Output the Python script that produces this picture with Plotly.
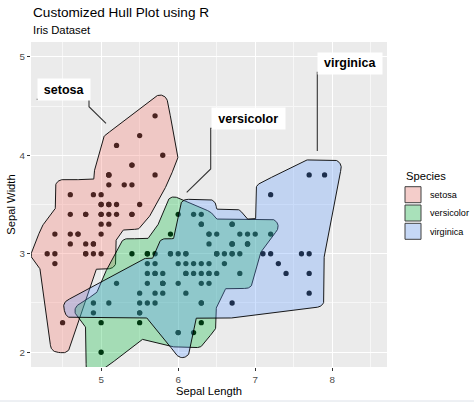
import numpy as np
import plotly.graph_objects as go

# ---------------- data (iris: Sepal.Length / Sepal.Width) ----------------
SPECIES = ["setosa", "versicolor", "virginica"]
SPECIES_COUNTS = [50, 50, 50]
SEPAL_LENGTH = [
    5.1, 4.9, 4.7, 4.6, 5.0, 5.4, 4.6, 5.0, 4.4, 4.9, 5.4, 4.8, 4.8, 4.3, 5.8, 5.7, 5.4, 5.1, 5.7, 5.1,
    5.4, 5.1, 4.6, 5.1, 4.8, 5.0, 5.0, 5.2, 5.2, 4.7, 4.8, 5.4, 5.2, 5.5, 4.9, 5.0, 5.5, 4.9, 4.4, 5.1,
    5.0, 4.5, 4.4, 5.0, 5.1, 4.8, 5.1, 4.6, 5.3, 5.0,
    7.0, 6.4, 6.9, 5.5, 6.5, 5.7, 6.3, 4.9, 6.6, 5.2, 5.0, 5.9, 6.0, 6.1, 5.6, 6.7, 5.6, 5.8, 6.2, 5.6,
    5.9, 6.1, 6.3, 6.1, 6.4, 6.6, 6.8, 6.7, 6.0, 5.7, 5.5, 5.5, 5.8, 6.0, 5.4, 6.0, 6.7, 6.3, 5.6, 5.5,
    5.5, 6.1, 5.8, 5.0, 5.6, 5.7, 5.7, 6.2, 5.1, 5.7,
    6.3, 5.8, 7.1, 6.3, 6.5, 7.6, 4.9, 7.3, 6.7, 7.2, 6.5, 6.4, 6.8, 5.7, 5.8, 6.4, 6.5, 7.7, 7.7, 6.0,
    6.9, 5.6, 7.7, 6.3, 6.7, 7.2, 6.2, 6.1, 6.4, 7.2, 7.4, 7.9, 6.4, 6.3, 6.1, 7.7, 6.3, 6.4, 6.0, 6.9,
    6.7, 6.9, 5.8, 6.8, 6.7, 6.7, 6.3, 6.5, 6.2, 5.9,
]
SEPAL_WIDTH = [
    3.5, 3.0, 3.2, 3.1, 3.6, 3.9, 3.4, 3.4, 2.9, 3.1, 3.7, 3.4, 3.0, 3.0, 4.0, 4.4, 3.9, 3.5, 3.8, 3.8,
    3.4, 3.7, 3.6, 3.3, 3.4, 3.0, 3.4, 3.5, 3.4, 3.2, 3.1, 3.4, 4.1, 4.2, 3.1, 3.2, 3.5, 3.6, 3.0, 3.4,
    3.5, 2.3, 3.2, 3.5, 3.8, 3.0, 3.8, 3.2, 3.7, 3.3,
    3.2, 3.2, 3.1, 2.3, 2.8, 2.8, 3.3, 2.4, 2.9, 2.7, 2.0, 3.0, 2.2, 2.9, 2.9, 3.1, 3.0, 2.7, 2.2, 2.5,
    3.2, 2.8, 2.5, 2.8, 2.9, 3.0, 2.8, 3.0, 2.9, 2.6, 2.4, 2.4, 2.7, 2.7, 3.0, 3.4, 3.1, 2.3, 3.0, 2.5,
    2.6, 3.0, 2.6, 2.3, 2.7, 3.0, 2.9, 2.9, 2.5, 2.8,
    3.3, 2.7, 3.0, 2.9, 3.0, 3.0, 2.5, 2.9, 2.5, 3.6, 3.2, 2.7, 3.0, 2.5, 2.8, 3.2, 3.0, 3.8, 2.6, 2.2,
    3.2, 2.8, 2.8, 2.7, 3.3, 3.2, 2.8, 3.0, 2.8, 3.0, 2.8, 3.8, 2.8, 2.8, 2.6, 3.0, 3.4, 3.1, 3.0, 3.1,
    3.1, 3.1, 2.7, 3.2, 3.3, 3.0, 2.5, 3.0, 3.4, 3.0,
]
FILL_HEX = ["#F8766D", "#00BA38", "#619CFF"]
FILL_ALPHA = 0.3
X_TICKS = [5, 6, 7, 8]
Y_TICKS = [2, 3, 4, 5]
X_RANGE = [4.09, 8.71]
Y_RANGE = [1.85, 5.15]

TITLE = "Customized Hull Plot using R"
SUBTITLE = "Iris Dataset"
X_TITLE = "Sepal Length"
Y_TITLE = "Sepal Width"
LEGEND_TITLE = "Species"

# ---------------- layout geometry (pixels) ----------------
FIG_W, FIG_H = 474, 404
M_L, M_R, M_T, M_B = 31, 87, 42, 37
PW, PH = FIG_W - M_L - M_R, FIG_H - M_T - M_B
SX = PW / (X_RANGE[1] - X_RANGE[0])
SY = PH / (Y_RANGE[1] - Y_RANGE[0])
EXPAND, RADIUS, MITER_LIM, CONCAVITY, STEP = 15.0, 7.5, 3.0, 2.0, 0.6
FONT = "Liberation Sans, Arial, sans-serif"

species_col = []
for s, c in zip(SPECIES, SPECIES_COUNTS):
    species_col += [s] * c
species_col = np.array(species_col)
sl = np.array(SEPAL_LENGTH)
sw = np.array(SEPAL_WIDTH)


def px_x(px):
    return (px - M_L) / PW


def px_y(py):
    return (FIG_H - M_B - py) / PH


def rgba(h, a):
    h = h.lstrip("#")
    return "rgba(%d,%d,%d,%s)" % (int(h[0:2], 16), int(h[2:4], 16), int(h[4:6], 16), a)


def blend(h, a, bg=(242, 242, 242)):
    h = h.lstrip("#")
    c = [int(h[i:i + 2], 16) for i in (0, 2, 4)]
    return "rgb(%d,%d,%d)" % tuple(round(a * c[i] + (1 - a) * bg[i]) for i in range(3))


# ---------------- hull geometry (concaveman + offset) ----------------
def seg_d2(P, a, b):
    ab = b - a
    L2 = ab @ ab
    if L2 == 0:
        return ((P - a) ** 2).sum(1)
    t = np.clip(((P - a) @ ab) / L2, 0, 1)
    pr = a + t[:, None] * ab
    return ((P - pr) ** 2).sum(1)


def orient(a, b, c):
    return (b[0] - a[0]) * (c[1] - a[1]) - (b[1] - a[1]) * (c[0] - a[0])


def seg_cross(p1, q1, p2, q2):
    return ((orient(p1, q1, p2) > 0) != (orient(p1, q1, q2) > 0)) and \
           ((orient(p2, q2, p1) > 0) != (orient(p2, q2, q1) > 0))


def convex_hull(P):
    idx = sorted(range(len(P)), key=lambda i: (P[i][0], P[i][1]))
    lower, upper = [], []
    for i in idx:
        while len(lower) >= 2 and orient(P[lower[-2]], P[lower[-1]], P[i]) <= 0:
            lower.pop()
        lower.append(i)
    for i in reversed(idx):
        while len(upper) >= 2 and orient(P[upper[-2]], P[upper[-1]], P[i]) <= 0:
            upper.pop()
        upper.append(i)
    return lower[:-1] + upper[:-1]


def concave_hull(P, concavity):
    hull = convex_hull(P)
    nxt, prv = {}, {}
    for k in range(len(hull)):
        a, b = hull[k], hull[(k + 1) % len(hull)]
        nxt[a] = b
        prv[b] = a
    free = np.ones(len(P), bool)
    free[hull] = False
    start = hull[0]

    def no_inter(a, p):
        s = start
        while True:
            t = nxt[s]
            if s not in (a, p) and t not in (a, p):
                if seg_cross(P[s], P[t], P[a], P[p]):
                    return False
            s = t
            if s == start:
                return True

    queue = list(hull)
    qi = 0
    while qi < len(queue):
        a = queue[qi]
        qi += 1
        b = nxt[a]
        A, B = P[a], P[b]
        maxsq = ((A - B) ** 2).sum() / concavity ** 2
        idx = np.where(free)[0]
        if len(idx) == 0:
            continue
        d = seg_d2(P[idx], A, B)
        cand = None
        for o in np.argsort(d):
            if d[o] > maxsq:
                break
            p = idx[o]
            d0 = seg_d2(P[p][None], P[prv[a]], A)[0]
            d1 = seg_d2(P[p][None], B, P[nxt[b]])[0]
            if d[o] < d0 and d[o] < d1 and no_inter(a, p) and no_inter(b, p):
                cand = p
                break
        if cand is not None and min(((P[cand] - A) ** 2).sum(), ((P[cand] - B) ** 2).sum()) <= maxsq:
            nxt[a] = cand
            prv[cand] = a
            nxt[cand] = b
            prv[b] = cand
            free[cand] = False
            queue.append(a)
            queue.append(cand)
    out = [start]
    s = nxt[start]
    while s != start:
        out.append(s)
        s = nxt[s]
    return out


def miter_offset(poly, d, lim):
    n = len(poly)
    out = []
    for i in range(n):
        v, p, q = poly[i], poly[i - 1], poly[(i + 1) % n]
        t1 = (v - p) / np.linalg.norm(v - p)
        t2 = (q - v) / np.linalg.norm(q - v)
        n1 = np.array([t1[1], -t1[0]])
        n2 = np.array([t2[1], -t2[0]])
        c = n1 @ n2
        cr = t1[0] * t2[1] - t1[1] * t2[0]
        if 1 + c < 1e-9:
            out += [v + d * n1, v + d * n2]
            continue
        ratio = np.sqrt(2 / (1 + c))
        if cr < 0:
            out += [v + d * n1, v.copy(), v + d * n2]
        elif ratio > lim:
            u = (n1 + n2) / np.linalg.norm(n1 + n2)
            s1 = (lim * d - d * (n1 @ u)) / (t1 @ u)
            s2 = (lim * d - d * (n2 @ u)) / (-(t2 @ u))
            out += [v + d * n1 + s1 * t1, v + d * n2 - s2 * t2]
        else:
            out.append(v + (n1 + n2) * d / (1 + c))
    return np.array(out)


def marching(gx, gy, F, level):
    inside = F < level
    c = (inside[:-1, :-1].astype(int) | (inside[:-1, 1:].astype(int) << 1)
         | (inside[1:, 1:].astype(int) << 2) | (inside[1:, :-1].astype(int) << 3))
    js, iis = np.nonzero((c != 0) & (c != 15))
    adj = {}

    def link(k1, k2):
        adj.setdefault(k1, []).append(k2)
        adj.setdefault(k2, []).append(k1)

    for j, i in zip(js, iis):
        bl, br, tr, tl = inside[j, i], inside[j, i + 1], inside[j + 1, i + 1], inside[j + 1, i]
        Bk, Rk, Tk, Lk = ("h", i, j), ("v", i + 1, j), ("h", i, j + 1), ("v", i, j)
        cx = []
        if bl != br: cx.append(Bk)
        if br != tr: cx.append(Rk)
        if tr != tl: cx.append(Tk)
        if tl != bl: cx.append(Lk)
        if len(cx) == 2:
            link(cx[0], cx[1])
        elif len(cx) == 4:
            cen = (F[j, i] + F[j, i + 1] + F[j + 1, i + 1] + F[j + 1, i]) / 4 < level
            if cen == bl:
                link(Bk, Rk); link(Tk, Lk)
            else:
                link(Bk, Lk); link(Rk, Tk)

    def pos(k):
        t, i, j = k
        if t == "h":
            f0, f1 = F[j, i], F[j, i + 1]
            s = (level - f0) / (f1 - f0)
            return gx[i] + s * (gx[i + 1] - gx[i]), gy[j]
        f0, f1 = F[j, i], F[j + 1, i]
        s = (level - f0) / (f1 - f0)
        return gx[i], gy[j] + s * (gy[j + 1] - gy[j])

    seen = set()
    loops = []
    for st in adj:
        if st in seen:
            continue
        loop = [st]
        seen.add(st)
        prev, cur = None, st
        while True:
            nb = adj[cur]
            nx_ = nb[0] if nb[0] != prev else nb[-1]
            if nx_ == st or nx_ in seen:
                break
            seen.add(nx_)
            loop.append(nx_)
            prev, cur = cur, nx_
        if len(loop) > 3:
            loops.append([pos(k) for k in loop])
    return loops


def hull_outline(xd, yd):
    P = np.column_stack([(xd - X_RANGE[0]) * SX, (yd - Y_RANGE[0]) * SY])
    P = np.unique(np.round(P, 6), axis=0)
    Nn = P / np.array([PW, PH])
    idx = concave_hull(Nn, CONCAVITY)
    poly = P[idx]
    area = 0.5 * np.sum(poly[:, 0] * np.roll(poly[:, 1], -1) - np.roll(poly[:, 0], -1) * poly[:, 1])
    if area < 0:
        poly = poly[::-1]
    off = miter_offset(poly, EXPAND - RADIUS, MITER_LIM)
    pad = RADIUS + 5
    lo = off.min(0) - pad
    hi = off.max(0) + pad
    gx = np.arange(lo[0], hi[0] + STEP, STEP)
    gy = np.arange(lo[1], hi[1] + STEP, STEP)
    GX, GY = np.meshgrid(gx, gy)
    D = np.full(GX.shape, np.inf)
    WN = np.zeros(GX.shape, int)
    m = len(off)
    for k in range(m):
        ax, ay = off[k]
        bx, by = off[(k + 1) % m]
        dx, dy = bx - ax, by - ay
        L2 = dx * dx + dy * dy
        t = np.clip(((GX - ax) * dx + (GY - ay) * dy) / L2, 0, 1) if L2 > 0 else 0
        D = np.minimum(D, (GX - ax - t * dx) ** 2 + (GY - ay - t * dy) ** 2)
        cr = dx * (GY - ay) - (GX - ax) * dy
        WN += (((ay <= GY) & (by > GY) & (cr > 0)).astype(int)
               - ((ay > GY) & (by <= GY) & (cr < 0)).astype(int))
    F = np.where(WN != 0, -np.sqrt(D), np.sqrt(D))
    loops = marching(gx, gy, F, RADIUS)
    xs, ys = [], []
    for lp in loops:
        arr = np.array(lp)
        xs += list(arr[:, 0] / SX + X_RANGE[0]) + [arr[0, 0] / SX + X_RANGE[0], None]
        ys += list(arr[:, 1] / SY + Y_RANGE[0]) + [arr[0, 1] / SY + Y_RANGE[0], None]
    return xs, ys


# ---------------- figure ----------------
fig = go.Figure()
fig.add_trace(go.Scatter(x=sl, y=sw, mode="markers", showlegend=False, hoverinfo="skip",
                         marker=dict(color="black", size=5.3, line=dict(width=0))))
for sp, col in zip(SPECIES, FILL_HEX):
    m = species_col == sp
    hx, hy = hull_outline(sl[m], sw[m])
    fig.add_trace(go.Scatter(x=hx, y=hy, mode="lines", fill="toself", name=sp, showlegend=False,
                             fillcolor=rgba(col, FILL_ALPHA), line=dict(color="black", width=0.9),
                             hoverinfo="skip"))

shapes = []
annotations = []

# labels with connectors (pixel positions)
LABELS = [
    ("setosa", (36.7, 78.0, 89.0, 99.3), [(36.7, 99.3), (89.0, 99.3), (89.0, 106.7), (106.0, 123.3)]),
    ("versicolor", (210.7, 107.0, 283.3, 128.3), [(283.3, 128.3), (210.7, 128.3), (210.7, 169.0), (186.7, 192.3)]),
    ("virginica", (317.3, 51.5, 381.7, 72.3), [(381.7, 72.3), (317.3, 72.3), (317.3, 151.0)]),
]
for text, (x0, y0, x1, y1), path in LABELS:
    annotations.append(dict(text="<b>%s</b>" % text, xref="paper", yref="paper", x=px_x(x0), y=px_y(y0),
                            xanchor="left", yanchor="top", width=x1 - x0, height=y1 - y0,
                            align="center", valign="middle", showarrow=False, bgcolor="white",
                            borderpad=0, font=dict(family=FONT, size=12.5, color="black")))
    d = "M " + " L ".join("%f,%f" % (px_x(a), px_y(b)) for a, b in path)
    shapes.append(dict(type="path", path=d, xref="paper", yref="paper",
                       line=dict(color="#333333", width=1.1), layer="above"))

# titles
annotations.append(dict(text=TITLE, xref="paper", yref="paper", x=px_x(31), y=px_y(12.3),
                        xanchor="left", yanchor="middle", showarrow=False,
                        font=dict(family=FONT, size=13.6, color="black")))
annotations.append(dict(text=SUBTITLE, xref="paper", yref="paper", x=px_x(31), y=px_y(29.6),
                        xanchor="left", yanchor="middle", showarrow=False,
                        font=dict(family=FONT, size=11.3, color="black")))

# legend (drawn manually)
annotations.append(dict(text=LEGEND_TITLE, xref="paper", yref="paper", x=px_x(404), y=px_y(176.0),
                        xanchor="left", yanchor="middle", showarrow=False,
                        font=dict(family=FONT, size=11.2, color="black")))
for k, (sp, col) in enumerate(zip(SPECIES, FILL_HEX)):
    top = 186.7 + k * 18.3
    shapes.append(dict(type="rect", xref="paper", yref="paper", x0=px_x(405), x1=px_x(421),
                       y0=px_y(top + 16), y1=px_y(top), fillcolor=blend(col, FILL_ALPHA),
                       line=dict(color="#404040", width=1)))
    annotations.append(dict(text=sp, xref="paper", yref="paper", x=px_x(427.5), y=px_y(top + 8.3),
                            xanchor="left", yanchor="middle", showarrow=False,
                            font=dict(family=FONT, size=9.1, color="black")))

# faint bottom border line of the image
shapes.append(dict(type="line", xref="paper", yref="paper", x0=px_x(0), x1=px_x(FIG_W),
                   y0=px_y(401), y1=px_y(401), line=dict(color="#DCE1E8", width=1)))

axis_common = dict(showline=False, zeroline=False, ticks="outside", ticklen=3, tickwidth=1,
                   tickcolor="#333333", showgrid=True, gridcolor="white", gridwidth=1.1,
                   tickfont=dict(family=FONT, size=9.8, color="#4D4D4D"), automargin=False)
fig.update_layout(
    width=FIG_W, height=FIG_H,
    margin=dict(l=M_L, r=M_R, t=M_T, b=M_B, pad=0),
    paper_bgcolor="white", plot_bgcolor="#EBEBEB",
    showlegend=False,
    xaxis=dict(range=X_RANGE, tickvals=X_TICKS, ticktext=[str(v) for v in X_TICKS],
               minor=dict(tickvals=[4.5, 5.5, 6.5, 7.5, 8.5], showgrid=True, gridcolor="#F7F7F7",
                          gridwidth=0.6, ticks=""),
               title=dict(text=X_TITLE, font=dict(family=FONT, size=11.2, color="black"), standoff=1),
               **axis_common),
    yaxis=dict(range=Y_RANGE, tickvals=Y_TICKS, ticktext=[str(v) for v in Y_TICKS],
               minor=dict(tickvals=[2.5, 3.5, 4.5], showgrid=True, gridcolor="#F7F7F7",
                          gridwidth=0.6, ticks=""),
               title=dict(text=Y_TITLE, font=dict(family=FONT, size=11.2, color="black"), standoff=1),
               **axis_common),
    shapes=shapes, annotations=annotations,
)

fig.write_html("out.html")
